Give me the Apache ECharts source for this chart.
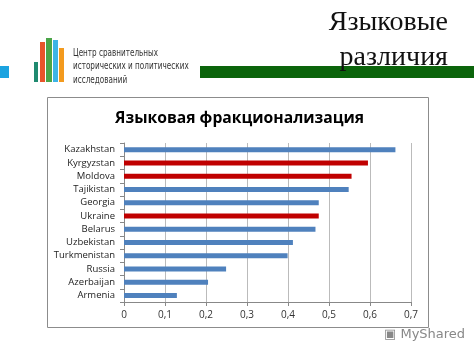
<!DOCTYPE html>
<html><head><meta charset="utf-8">
<script src="https://cdn.jsdelivr.net/npm/echarts@6/dist/echarts.min.js"></script>
<style>html,body{margin:0;padding:0;background:#fff}#c{width:474px;height:355px}</style>
</head><body><div id="c"></div>
<script>
const categories = ['Kazakhstan','Kyrgyzstan','Moldova','Tajikistan','Georgia','Ukraine','Belarus','Uzbekistan','Turkmenistan','Russia','Azerbaijan','Armenia'];
const values = [0.662,0.595,0.555,0.548,0.475,0.475,0.467,0.412,0.399,0.249,0.205,0.129];
const highlighted = ['Kyrgyzstan','Moldova','Ukraine'];
const xTicks = [0,0.1,0.2,0.3,0.4,0.5,0.6,0.7];
const chartTitle = 'Языковая фракционализация';
const slideTitle = ['Языковые','различия'];
const orgLines = ['Центр сравнительных','исторических и политических','исследований'];

const chart = echarts.init(document.getElementById('c'), null, {renderer:'canvas'});
const blue = '#4F81BD', red = '#C00000';
const logoBars = [
  {x:34,y:62,w:4,c:'#1f8a70'},
  {x:40,y:42,w:5,c:'#e8542a'},
  {x:46,y:38,w:6,c:'#4aa548'},
  {x:53,y:40,w:5,c:'#3cb4e6'},
  {x:59,y:48,w:5,c:'#f39a1e'}
];
const graphics = [
  {type:'rect', shape:{x:0,y:66,width:9,height:12}, style:{fill:'#1CA3E0'}},
  {type:'rect', shape:{x:200,y:66,width:274,height:12}, style:{fill:'#0B640B'}},
  {type:'rect', shape:{x:47.5,y:97.5,width:381,height:230}, style:{fill:'none',stroke:'#8c8c8c',lineWidth:1}},
  {type:'text', x:448, y:9, style:{text:slideTitle[0], align:'right', font:'28px "Liberation Serif", serif', fill:'#111'}},
  {type:'text', x:448, y:44, style:{text:slideTitle[1], align:'right', font:'28px "Liberation Serif", serif', fill:'#111'}},
  {type:'text', left:115, top:111, style:{text:chartTitle, font:'bold 15.7px "Open Sans", "DejaVu Sans", sans-serif', fill:'#000'}},
  {type:'text', left:384, top:328, style:{text:'\u25A3 MyShared', font:'13px "DejaVu Sans", sans-serif', fill:'#888'}}
];
logoBars.forEach(b=>graphics.push({type:'rect', shape:{x:b.x,y:b.y,width:b.w,height:82-b.y}, style:{fill:b.c}}));
orgLines.forEach((t,i)=>graphics.push({type:'text', x:73, y:48+i*13.5, scaleX:0.74, originX:0, style:{text:t, font:'9.8px "DejaVu Sans", sans-serif', fill:'#333'}}));

chart.setOption({
  animation:false,
  grid:{left:124, right:63, top:143, bottom:53},
  xAxis:{type:'value', min:0, max:0.7, interval:0.1,
    axisLine:{show:true, lineStyle:{color:'#888'}},
    axisTick:{show:true, length:4, lineStyle:{color:'#888'}},
    splitLine:{show:true, lineStyle:{color:'#bbb'}},
    axisLabel:{color:'#333', fontSize:10, margin:8, fontFamily:'"Open Sans", sans-serif',
      formatter:v=>{const t=xTicks.find(x=>Math.abs(x-v)<1e-9); return (t===undefined?v:t).toString().replace('.',',');}}
  },
  yAxis:{type:'category', data:categories, inverse:true,
    axisLine:{show:true, lineStyle:{color:'#888'}},
    axisTick:{show:true, length:4, lineStyle:{color:'#888'}},
    axisLabel:{color:'#222', fontSize:9.5, margin:9, fontFamily:'"Open Sans", sans-serif'}
  },
  series:[{type:'bar', barWidth:5,
    data:values.map((v,i)=>({value:v, itemStyle:{color: highlighted.includes(categories[i])?red:blue}}))
  }],
  graphic:graphics
});
</script></body></html>
